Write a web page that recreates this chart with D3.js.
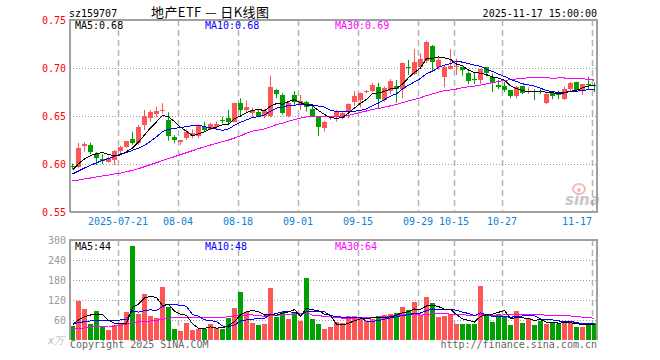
<!DOCTYPE html>
<html><head><meta charset="utf-8">
<script src="https://cdn.jsdelivr.net/npm/d3@7/dist/d3.min.js"></script>
<style>html,body{margin:0;padding:0;background:#fff;}svg{display:block;}</style>
</head><body>
<svg id="chart" width="660" height="360"></svg>
<script>
const dates = [
"2025-07-09","2025-07-10","2025-07-11","2025-07-14","2025-07-15","2025-07-16","2025-07-17","2025-07-18",
"2025-07-21","2025-07-22","2025-07-23","2025-07-24","2025-07-25","2025-07-28","2025-07-29","2025-07-30","2025-07-31",
"2025-08-01","2025-08-04","2025-08-05","2025-08-06","2025-08-07","2025-08-08","2025-08-11","2025-08-12","2025-08-13","2025-08-14","2025-08-15",
"2025-08-18","2025-08-19","2025-08-20","2025-08-21","2025-08-22","2025-08-25","2025-08-26","2025-08-27","2025-08-28","2025-08-29",
"2025-09-01","2025-09-02","2025-09-03","2025-09-04","2025-09-05","2025-09-08","2025-09-09","2025-09-10","2025-09-11","2025-09-12",
"2025-09-15","2025-09-16","2025-09-17","2025-09-18","2025-09-19","2025-09-22","2025-09-23","2025-09-24","2025-09-25","2025-09-26",
"2025-09-29","2025-09-30",
"2025-10-09","2025-10-10","2025-10-13","2025-10-14","2025-10-15","2025-10-16","2025-10-17","2025-10-20","2025-10-21","2025-10-22",
"2025-10-23","2025-10-24","2025-10-27","2025-10-28","2025-10-29","2025-10-30","2025-10-31",
"2025-11-03","2025-11-04","2025-11-05","2025-11-06","2025-11-07","2025-11-10","2025-11-11","2025-11-12","2025-11-13","2025-11-14","2025-11-17"];

const open  = [0.5980,0.5970,0.6188,0.6198,0.6104,0.6055,0.6024,0.6042,0.6128,0.6180,
0.6257,0.6215,0.6406,0.6486,0.6520,0.6552,0.6458,0.6285,0.6230,0.6278,
0.6292,0.6292,0.6389,0.6370,0.6378,0.6458,0.6476,0.6440,0.6639,0.6563,
0.6535,0.6545,0.6500,0.6500,0.6771,0.6719,0.6500,0.6719,0.6615,0.6642,
0.6573,0.6500,0.6382,0.6483,0.6500,0.6486,0.6545,0.6650,0.6674,0.6750,
0.6764,0.6799,0.6660,0.6760,0.6813,0.6788,0.7014,0.6944,0.7014,0.7066,
0.7229,0.7010,0.6910,0.6990,0.7007,0.7007,0.6951,0.6889,0.6875,0.7007,
0.6910,0.6823,0.6813,0.6771,0.6708,0.6813,0.6750,0.6764,0.6764,0.6639,
0.6743,0.6733,0.6674,0.6788,0.6858,0.6771,0.6837,0.6826];
const high  = [0.6005,0.6220,0.6226,0.6222,0.6122,0.6104,0.6076,0.6146,0.6190,0.6240,
0.6337,0.6406,0.6563,0.6563,0.6597,0.6632,0.6540,0.6300,0.6250,0.6360,
0.6360,0.6414,0.6440,0.6430,0.6440,0.6493,0.6563,0.6639,0.6684,0.6660,
0.6587,0.6563,0.6570,0.6920,0.6780,0.6736,0.6650,0.6760,0.6719,0.6656,
0.6615,0.6500,0.6451,0.6500,0.6563,0.6545,0.6632,0.6760,0.6743,0.6771,
0.6847,0.6847,0.6806,0.6885,0.6875,0.7056,0.7083,0.7198,0.7153,0.7285,
0.7240,0.7128,0.7031,0.7198,0.7097,0.7014,0.6962,0.6951,0.6993,0.7007,
0.6944,0.6875,0.6858,0.6771,0.6813,0.6813,0.6799,0.6778,0.6788,0.6736,
0.6743,0.6764,0.6806,0.6858,0.6858,0.6833,0.6910,0.6847];
const low   = [0.5945,0.5960,0.6128,0.6104,0.5990,0.6000,0.6014,0.5990,0.6118,0.6170,
0.6200,0.6200,0.6354,0.6440,0.6486,0.6528,0.6243,0.6215,0.6200,0.6250,
0.6268,0.6270,0.6337,0.6354,0.6354,0.6424,0.6424,0.6436,0.6510,0.6531,
0.6486,0.6486,0.6476,0.6486,0.6684,0.6514,0.6486,0.6615,0.6563,0.6545,
0.6495,0.6292,0.6337,0.6455,0.6441,0.6465,0.6476,0.6608,0.6590,0.6736,
0.6750,0.6573,0.6650,0.6729,0.6639,0.6684,0.6927,0.6927,0.7010,0.7050,
0.6962,0.6983,0.6799,0.6986,0.6927,0.6920,0.6833,0.6833,0.6833,0.6910,
0.6750,0.6778,0.6750,0.6684,0.6684,0.6729,0.6729,0.6667,0.6729,0.6625,
0.6674,0.6674,0.6667,0.6750,0.6750,0.6719,0.6778,0.6750];
const close = [0.5970,0.6170,0.6205,0.6128,0.6066,0.6034,0.6062,0.6135,0.6174,0.6240,
0.6215,0.6382,0.6500,0.6545,0.6552,0.6563,0.6295,0.6257,0.6250,0.6337,
0.6326,0.6406,0.6360,0.6417,0.6413,0.6450,0.6434,0.6639,0.6563,0.6590,
0.6563,0.6500,0.6552,0.6806,0.6729,0.6531,0.6632,0.6650,0.6656,0.6590,
0.6500,0.6389,0.6441,0.6497,0.6552,0.6535,0.6625,0.6708,0.6743,0.6760,
0.6823,0.6674,0.6788,0.6868,0.6778,0.7056,0.7003,0.7066,0.7097,0.7267,
0.7066,0.7083,0.7014,0.7021,0.7021,0.6972,0.6865,0.6882,0.6993,0.6944,
0.6847,0.6806,0.6771,0.6708,0.6799,0.6736,0.6760,0.6753,0.6757,0.6729,
0.6708,0.6726,0.6778,0.6847,0.6778,0.6833,0.6826,0.6816];
// volume, 万
const volume = [43,117,93,47,87,40,30,45,47,85,
282,78,138,73,67,160,100,33,27,52,
30,33,33,48,35,33,65,97,145,85,
52,45,48,157,70,83,63,83,58,187,
63,48,33,40,53,52,72,72,67,58,
63,73,75,78,82,100,90,115,75,130,
112,70,73,77,48,48,48,48,163,72,
55,78,72,45,87,52,65,45,58,48,
53,48,53,55,38,38,45,50];

const ma5Head  = [0.5934,0.6003,0.6052,0.6087];
const ma10Head = [0.5896,0.5927,0.5958,0.5986,0.6014,0.6035,0.6056,0.6080,0.6104];
const ma30Head = [0.5826,0.5833,0.5844,0.5854,0.5865,0.5875,0.5885,0.5896,0.5906,0.5920,
0.5934,0.5951,0.5972,0.5993,0.6014,0.6035,0.6056,0.6076,0.6097,0.6118,
0.6139,0.6160,0.6180,0.6198,0.6215,0.6233,0.6250,0.6271,0.6292];
const vma5Head  = [47,60,70,75];
const vma10Head = [47,52,55,57,58,59,59,59,60];
const vma30Head = [33,35,36,38,40,41,42,42,44,48,53,54,55,57,59,62,65,67,67,67,67,67,67,67,67,67,70,72,73];

const priceTicks = [0.55,0.60,0.65,0.70,0.75];
const volTicks = [60,120,180,240,300];
const tickDates = ["2025-07-21","2025-08-04","2025-08-18","2025-09-01","2025-09-15","2025-09-29","2025-10-15","2025-10-27","2025-11-17"];
const tickLabels = ["2025-07-21","08-04","08-18","09-01","09-15","09-29","10-15","10-27","11-17"];
const priceLegend = ["MA5:0.68","MA10:0.68","MA30:0.69"];
const volLegend = ["MA5:44","MA10:48","MA30:64"];
const code = "sz159707";
const title = "地产ETF — 日K线图";
const stamp = "2025-11-17 15:00:00";

function movingAvg(arr, n, head){
  return arr.map((v,i)=> i < n-1 ? head[i] : d3.mean(arr.slice(i-n+1,i+1)));
}

const svg = d3.select("#chart");
const L = 70, R = 597;
const PT = 20, PB = 212, VT = 240, VB = 340;
const mono = "'DejaVu Sans Mono', monospace";
const RED = "#ff5555", GREEN = "#00a000";

const x = d3.scaleBand().domain(dates).range([L, L + 6*dates.length]).padding(0);
const bw = 5;
const yP = d3.scaleLinear().domain([0.55,0.75]).range([PB, PT]);
const yV = d3.scaleLinear().domain([0,300]).range([VB, VT]);

const data = dates.map((d,i)=>({d, o:open[i], h:high[i], l:low[i], c:close[i], v:volume[i]}));

// gridlines
const g = svg.append("g");
[[PT,PB],[VT,VB]].forEach(([t,b])=>{
  g.selectAll(null).data(tickDates).enter().append("line")
    .attr("x1",d=>Math.round(x(d))+0.5).attr("x2",d=>Math.round(x(d))+0.5)
    .attr("y1",t).attr("y2",b)
    .attr("stroke","#b4b4b4").attr("stroke-width",1.5).attr("stroke-dasharray","6,4");
});
g.selectAll(null).data(priceTicks.slice(1,-1)).enter().append("line")
  .attr("x1",L).attr("x2",R).attr("y1",d=>Math.round(yP(d))+0.5).attr("y2",d=>Math.round(yP(d))+0.5)
  .attr("stroke","#999").attr("stroke-dasharray","1,2");
g.selectAll(null).data(volTicks.slice(0,-1)).enter().append("line")
  .attr("x1",L).attr("x2",R).attr("y1",d=>Math.round(yV(d))+0.5).attr("y2",d=>Math.round(yV(d))+0.5)
  .attr("stroke","#999").attr("stroke-dasharray","1,2");

// watermark
const wm = svg.append("g").attr("opacity",0.55);
wm.append("ellipse").attr("cx",579).attr("cy",189).attr("rx",6).attr("ry",5).attr("fill","none").attr("stroke","#f08080").attr("stroke-width",2);
wm.append("circle").attr("cx",579).attr("cy",190).attr("r",2).attr("fill","#f08080");
wm.append("text").attr("x",565).attr("y",205).attr("font-family","'DejaVu Sans', sans-serif").attr("font-style","italic").attr("font-weight","bold").attr("font-size",15).attr("fill","#999").text("sina");

// candles
const cg = svg.append("g");
const col = d => d.c >= d.o ? RED : GREEN;
cg.selectAll("line.wick").data(data).enter().append("line")
  .attr("x1",d=>x(d.d)+2.5).attr("x2",d=>x(d.d)+2.5)
  .attr("y1",d=>yP(d.h)).attr("y2",d=>yP(d.l))
  .attr("stroke",col).attr("stroke-width",1);
cg.selectAll("rect.body").data(data).enter().append("rect")
  .attr("x",d=>x(d.d)).attr("width",bw)
  .attr("y",d=>Math.round(yP(Math.max(d.o,d.c))))
  .attr("height",d=>Math.max(1,Math.round(Math.abs(yP(d.o)-yP(d.c)))))
  .attr("fill",col);

// volume bars
svg.append("g").selectAll("rect").data(data).enter().append("rect")
  .attr("x",d=>x(d.d)).attr("width",bw)
  .attr("y",d=>Math.round(yV(d.v))).attr("height",d=>VB-Math.round(yV(d.v)))
  .attr("fill",col);

// MA lines
const cx = i => x(dates[i]) + 2.5;
function drawLine(vals, yScale, color){
  svg.append("path").datum(vals)
    .attr("d", d3.line().x((v,i)=>cx(i)).y(v=>yScale(v)))
    .attr("fill","none").attr("stroke",color).attr("stroke-width",1)
    .attr("shape-rendering","crispEdges");
}
drawLine(movingAvg(close,30,ma30Head), yP, "#ff00ff");
drawLine(movingAvg(close,10,ma10Head), yP, "#0000ff");
drawLine(movingAvg(close,5,ma5Head), yP, "#000000");
drawLine(movingAvg(volume,30,vma30Head), yV, "#ff00ff");
drawLine(movingAvg(volume,10,vma10Head), yV, "#0000ff");
drawLine(movingAvg(volume,5,vma5Head), yV, "#000000");

// frames
const fr = svg.append("g").attr("stroke","#a0a0a0").attr("stroke-width",2).attr("fill","none");
fr.append("path").attr("d",`M${L},${PB}V${PT}H${R}V${PB}H${L}`);
fr.append("path").attr("d",`M${L},${VB}V${VT}H${R}V${VB}`);

// axis labels
const txt = svg.append("g").attr("font-family",mono).attr("font-size",10);
txt.selectAll(null).data(priceTicks).enter().append("text")
  .attr("x",66).attr("y",d=>yP(d)+4).attr("text-anchor","end").attr("fill","#ff0000")
  .text(d=>d3.format(".2f")(d));
txt.selectAll(null).data(volTicks).enter().append("text")
  .attr("x",66).attr("y",d=>yV(d)+4).attr("text-anchor","end").attr("fill","#999")
  .text(d=>d);
txt.append("text").attr("x",64).attr("y",344).attr("text-anchor","end").attr("fill","#bbb").attr("font-style","italic").text("x万");
const lastTick = tickDates.length - 1;
txt.selectAll(null).data(tickDates).enter().append("text")
  .attr("x",d=>Math.round(x(d)))
  .attr("y",225)
  .attr("text-anchor",(d,i)=> i === lastTick ? "end" : "middle")
  .attr("fill","#0a84d8")
  .text((d,i)=>tickLabels[i]);

// legends
const legX = [75,205,335], legC = ["#000","#0000ff","#ff00ff"];
txt.selectAll(null).data(priceLegend).enter().append("text")
  .attr("x",(d,i)=>legX[i]).attr("y",29).attr("fill",(d,i)=>legC[i]).text(d=>d);
txt.selectAll(null).data(volLegend).enter().append("text")
  .attr("x",(d,i)=>legX[i]).attr("y",250).attr("fill",(d,i)=>legC[i]).text(d=>d);

// header
txt.append("text").attr("x",69).attr("y",17).attr("fill","#000").text(code);
txt.append("text").attr("x",597).attr("y",17).attr("text-anchor","end").attr("fill","#000").text(stamp);
svg.append("text").attr("x",151).attr("y",17).attr("font-family","'Noto Sans CJK SC', sans-serif").attr("font-size",13).attr("fill","#000")
  .attr("textLength",118).attr("lengthAdjust","spacing").text(title);

// footer
txt.append("text").attr("x",70).attr("y",348).attr("fill","#666").text("Copyright 2025 SINA.COM");
txt.append("text").attr("x",597).attr("y",348).attr("text-anchor","end").attr("fill","#666").text("http://finance.sina.com.cn");
</script>
</body></html>
